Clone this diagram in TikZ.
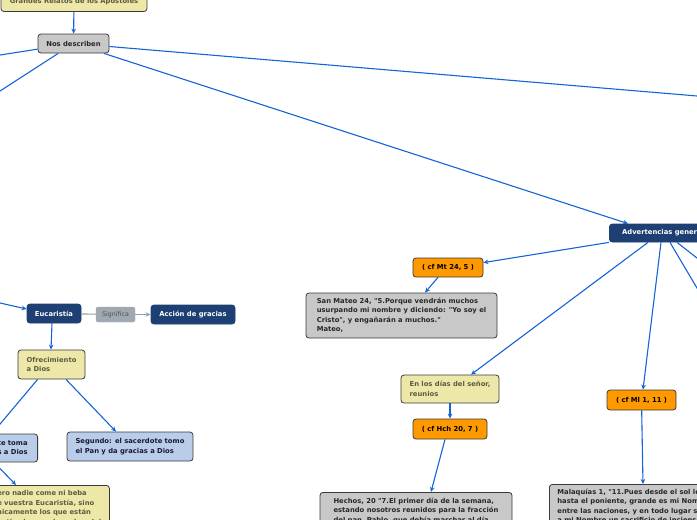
\documentclass[tikz,border=0pt]{standalone}
\usepackage{fontspec}
\setmainfont{DejaVu Sans}[Ligatures=TeXOff]
\usetikzlibrary{arrows.meta,calc}
\newcommand{\sq}{\char34\relax}
\definecolor{lnblue}{RGB}{20,100,215}
\definecolor{yelfill}{RGB}{238,232,168}
\definecolor{yeltext}{RGB}{92,92,66}
\definecolor{bord}{RGB}{58,58,58}
\definecolor{gryfill}{RGB}{200,200,200}
\definecolor{darktext}{RGB}{40,40,40}
\definecolor{orgfill}{RGB}{255,153,0}
\definecolor{dbluefill}{RGB}{30,63,115}
\definecolor{lbluefill}{RGB}{186,205,232}
\definecolor{lbluetext}{RGB}{25,25,55}
\definecolor{sigfill}{RGB}{160,168,178}
\definecolor{sigline}{RGB}{150,160,170}
\begin{document}
\begin{tikzpicture}[x=1pt,y=-1pt,
  base/.style={rounded corners=3pt, font=\fontsize{6.8}{9.5}\selectfont\bfseries, inner sep=0pt, align=left, line width=0.8pt},
  yel/.style={base, fill=yelfill, draw=bord, text=yeltext},
  gry/.style={base, fill=gryfill, draw=bord, text=darktext},
  org/.style={base, fill=orgfill, draw=bord, text=black},
  dblue/.style={base, fill=dbluefill, draw=dbluefill, text=white},
  lblue/.style={base, fill=lbluefill, draw=bord, text=lbluetext},
  sigs/.style={rounded corners=2pt, fill=sigfill, draw=sigfill, text=darktext!80, font=\fontsize{6.3}{8}\selectfont, inner sep=0pt},
  conn/.style={draw=lnblue, line width=1.1pt},
  arr/.style={conn, -{Stealth[length=5pt,width=4.5pt]}},
  gconn/.style={draw=sigline, line width=1.1pt},
  garr/.style={gconn, -{Stealth[length=5pt,width=4.5pt]}}
]
\useasboundingbox (0,0) rectangle (697,520);

% nodes
\node[yel, minimum width=146pt, minimum height=19pt] (grandes) at (74,2) {Grandes Relatos de los Apostoles};
\node[gry, minimum width=71pt, minimum height=19pt] (nos) at (73.5,43.5) {Nos describen};
\node[dblue, anchor=west, minimum width=116pt, minimum height=18pt] (adv) at (609,233) {Advertencias generales};
\node[org, minimum width=70pt, minimum height=19pt] (mt) at (448,267.5) {( cf Mt 24, 5 )};
\node[gry, minimum width=191pt, minimum height=45pt] (mateo) at (401.5,315.5) {San Mateo 24, \sq5.Porque vendrán muchos\\usurpando mi nombre y diciendo: \sq Yo soy el\\Cristo\sq, y engañarán a muchos.\sq\\Mateo,};
\node[yel, minimum width=98pt, minimum height=28pt] (dias) at (450,389) {En los días del señor,\\reunios};
\node[org, minimum width=74pt, minimum height=20pt] (hch) at (450,429) {( cf Hch 20, 7 )};
\node[gry, anchor=north, minimum width=192pt, minimum height=37pt] (hechos) at (416,492) {Hechos, 20 \sq7.El primer día de la semana,\\estando nosotros reunidos para la fracción\\del pan, Pablo, que debía marchar al día};
\node[org, minimum width=69pt, minimum height=20pt] (ml) at (641.5,400) {( cf Ml 1, 11 )};
\node[gry, anchor=north west, inner xsep=8pt, inner ysep=4.5pt] (malaq) at (549,484) {Malaquías 1, \sq11.Pues desde el sol levante\\hasta el poniente, grande es mi Nombre\\entre las naciones, y en todo lugar se ofrece\\a mi Nombre un sacrificio de incienso};
\node[dblue, minimum width=54pt, minimum height=19pt] (euc) at (54,313.5) {Eucaristía};
\node[sigs, minimum width=39pt, minimum height=15pt] (sig) at (115.5,314.5) {Significa};
\node[dblue, minimum width=84pt, minimum height=19pt] (accion) at (193,314.5) {Acción de gracias};
\node[yel, minimum width=67pt, minimum height=29pt] (ofrec) at (51.5,364.5) {Ofrecimiento\\a Dios};
\node[lblue, minimum width=126pt, minimum height=29pt] (segundo) at (130,446.5) {Segundo: el sacerdote tomo\\el Pan y da gracias a Dios};
\node[lblue, anchor=east, inner xsep=10pt, minimum height=28pt, align=right] (primero) at (38,448) {Primero: el sacerdote toma\\el cáliz y da gracias a Dios};
\node[yel, anchor=north west, inner xsep=3pt, inner ysep=5pt, text width=114pt] (pero) at (-11,485) {Pero nadie come ni beba\\de vuestra Eucaristía, sino\\únicamente los que están\\bautizados en el nombre del};

% free ends
\coordinate (o1) at (-10,56.6);
\coordinate (o2) at (-10,97.5);
\coordinate (o3) at (760,101.3);
\coordinate (o4) at (720,327);
\coordinate (o5) at (720,276);
\coordinate (o6) at (-10,300.7);
\coordinate (o7) at (-10,436);

% connectors
\draw[arr] (grandes) -- (nos);
\draw[conn] (nos) -- (o1);
\draw[conn] (nos) -- (o2);
\draw[conn] (nos) -- (o3);
\draw[arr] (nos) -- ($(adv.north west)+(19,0)$);
\draw[arr] (adv.south west) -- ($(mt.north east)+(0,5)$);
\draw[arr] ($(mt.south)+(-10,0)$) -- ($(mateo.north)+(23.5,0)$);
\draw[arr] ($(adv.south west)+(39,0)$) -- ($(dias.north)+(21,0)$);
\draw[arr] ($(adv.south west)+(52,0)$) -- ($(ml.north)+(1.5,0)$);
\draw[conn] ($(adv.south west)+(61,0)$) -- (o4);
\draw[conn] ($(adv.south west)+(68,0)$) -- (o5);
\draw[arr] (dias) -- (hch);
\draw[arr] ($(hch.south)+(-5,0)$) -- ($(hechos.north)+(15,0)$);
\draw[arr] (ml) -- ($(malaq.north west)+(94,0)$);
\draw[arr] (o6) -- ($(euc.west)+(0,-4.5)$);
\draw[gconn] (euc) -- (sig);
\draw[garr] (sig) -- (accion);
\draw[arr] ($(euc.south)+(-2,0)$) -- ($(ofrec.north)+(-0.5,0)$);
\draw[conn] ($(ofrec.south west)+(20,0)$) -- (o7);
\draw[arr] ($(ofrec.south)+(14.5,0)$) -- ($(segundo.north)+(-14,0)$);
\draw[arr] ($(primero.south east)+(-44,0)$) -- ($(pero.north west)+(27,0)$);
\end{tikzpicture}
\end{document}
